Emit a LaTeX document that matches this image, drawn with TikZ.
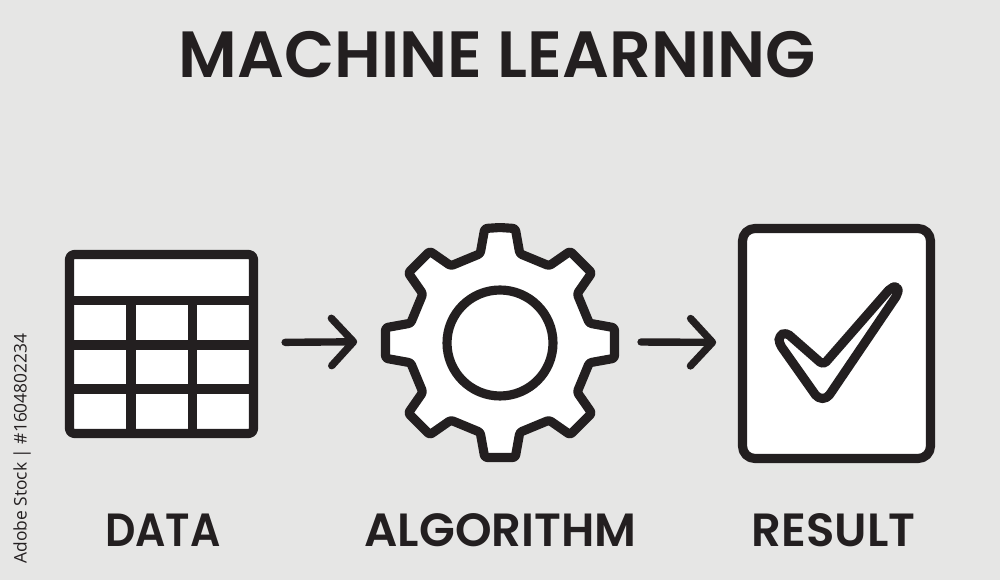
\documentclass[tikz,border=0pt]{standalone}
\usepackage{fontspec}
\setmainfont{Poppins}[BoldFont={Poppins SemiBold}]
\newfontfamily\creditfont{Open Sans}
\usetikzlibrary{arrows.meta}
\definecolor{ink}{HTML}{231F20}
\definecolor{paper}{HTML}{E6E6E5}

\begin{document}
\begin{tikzpicture}[x=0.02cm,y=-0.02cm,
  iconline/.style={draw=ink, line width=5.2pt, fill=white, line join=round},
  gridline/.style={draw=ink, line width=5.2pt},
  flow/.style={draw=ink, line width=4.2pt, line cap=round,
    -{Straight Barb[length=12.5pt,width=27pt,line cap=round,round]}},
  heading/.style={text=ink, font=\bfseries\fontsize{37.2}{37.2}\selectfont, inner sep=0},
  caption/.style={text=ink, font=\bfseries\fontsize{26.5}{26.5}\selectfont, inner sep=0}]
\fill[paper] (0,0) rectangle (1000,580);
\useasboundingbox (0,0) rectangle (1000,580);

\node[heading] (title) at (497,55) {MACHINE LEARNING};

% data table
\node[iconline, rounded corners=2.5pt, inner sep=0, outer sep=0, minimum width=3.68cm, minimum height=3.58cm] (data) at (161.5,344) {};
\foreach \y in {300.5,345,389}
  \draw[gridline] (69.5,\y) -- (253.5,\y);
\foreach \x in {131,192.5}
  \draw[gridline] (\x,300.5) -- (\x,433.5);

% gear
\begin{scope}[shift={(500,343)}]
\draw[iconline, rounded corners=1.4pt] (-90:115.5)
  \foreach \a in {-90,-45,...,225} {
    -- (\a+7.6:115.5) -- (\a+12.5:91.5) -- (\a+32.5:91.5) -- (\a+37.4:115.5)
  } -- cycle;
\end{scope}
\node[circle, inner sep=0, outer sep=0, minimum size=4.8cm] (gear) at (500,343) {};
\node[iconline, circle, inner sep=0, outer sep=0, minimum size=2.12cm] (hub) at (gear) {};

% result sheet
\node[iconline, rounded corners=7pt, inner sep=0, outer sep=0, minimum width=3.76cm, minimum height=4.6cm] (result) at (836.5,343.5) {};
\draw[iconline, rounded corners=2.5pt] (786,332.3) -- (823.3,365) -- (891.5,287) -- (897.5,287)
  -- (898.5,293) -- (827,398.5) -- (818,398.5) -- (779,343.3) -- (779,335.7) -- cycle;

% flow
\draw[flow, shorten <=18pt, shorten >=13pt] ([yshift=.8pt]data.east) -- ([yshift=.8pt]gear.west);
\draw[flow, shorten <=12pt, shorten >=15pt] ([yshift=.6pt]gear.east) -- ([yshift=.6pt]result.west);

\node[caption, xscale=0.91] (datalabel) at (163,530) {DATA};
\node[caption] (algolabel) at (500.5,530) {ALGORITHM};
\node[caption] (resultlabel) at (833.5,530) {RESULT};

\node[text=ink, rotate=90, inner sep=0, font=\creditfont\fontsize{9.9}{9.9}\selectfont] (credit) at (22,448.5) {Adobe Stock | \#1604802234};
\end{tikzpicture}
\end{document}
